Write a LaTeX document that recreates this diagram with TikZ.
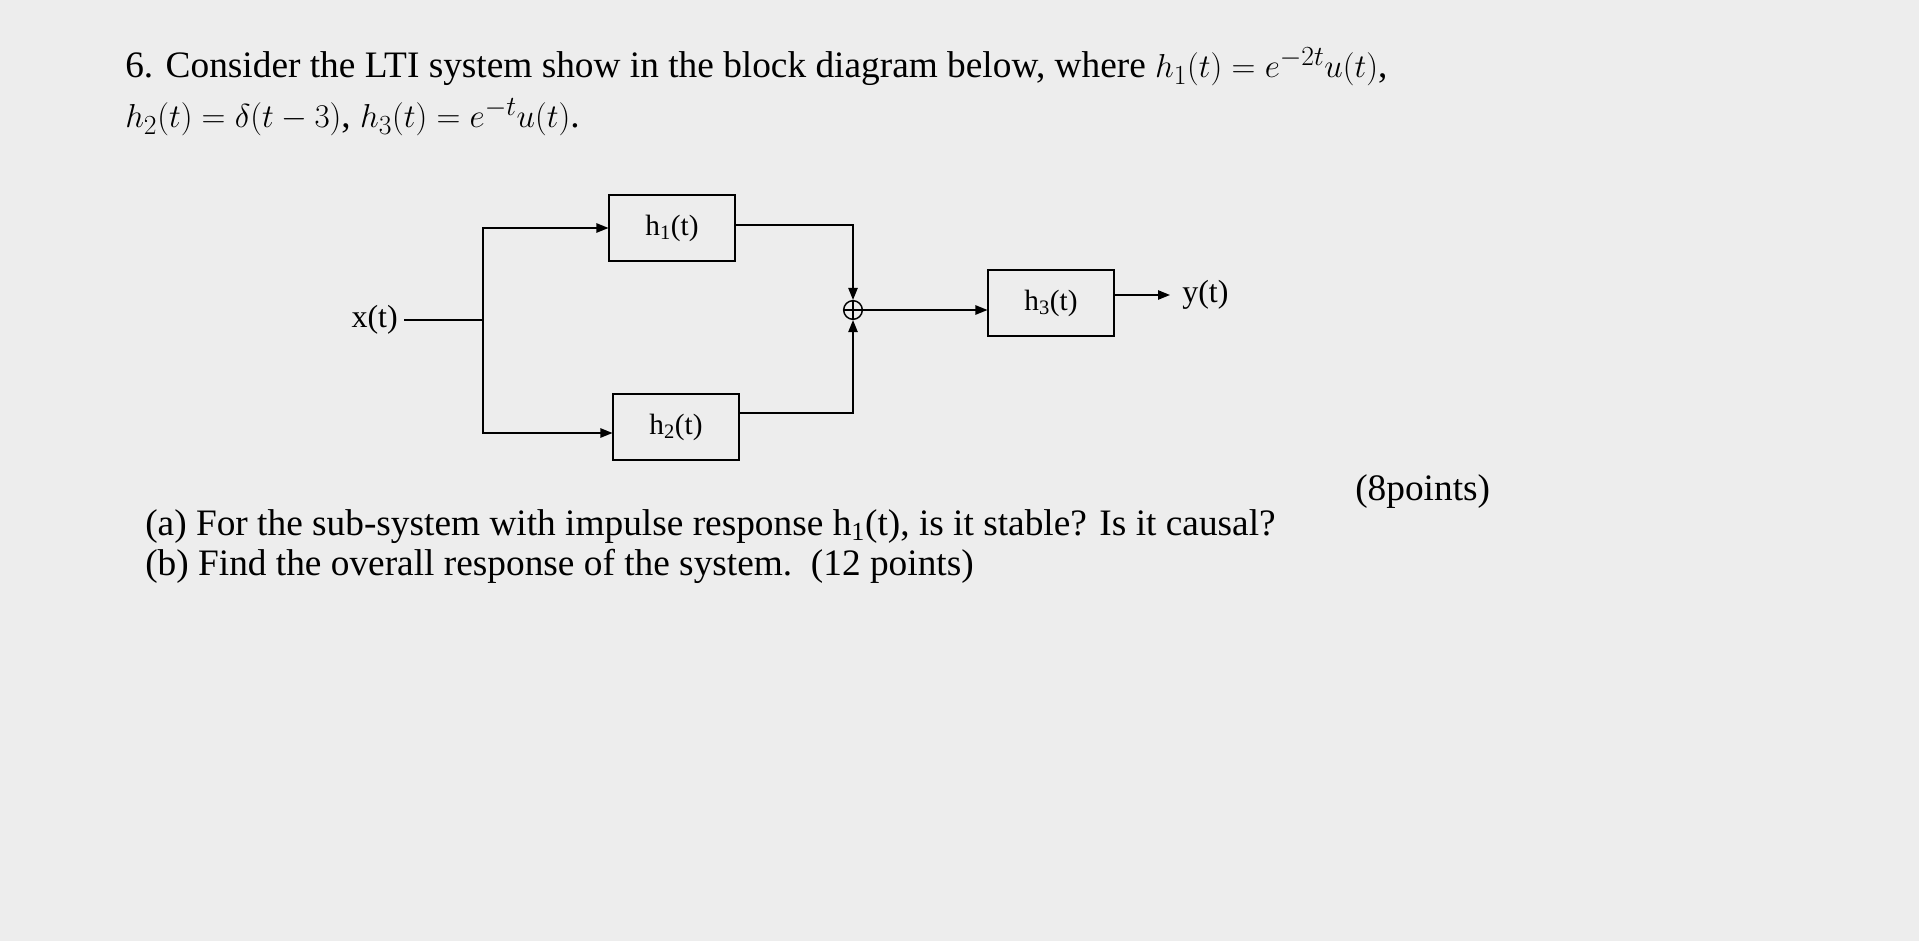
\documentclass[tikz,border=0pt]{standalone}
\usepackage{fontspec}
\setmainfont{Liberation Serif}
\usetikzlibrary{arrows.meta}
\begin{document}
\begin{tikzpicture}[x=0.75pt,y=-0.75pt,
  blk/.style={draw,line width=1.3pt,minimum width=94pt,minimum height=49pt,inner sep=0pt,font=\fontsize{22}{24}\selectfont},
  ln/.style={line width=1.1pt},
  ar/.style={ln,-{Triangle[length=9pt,width=7pt]}},
  txt/.style={anchor=base west,inner sep=0pt,font=\fontsize{28}{30}\selectfont}]
\fill[gray!14] (0,0) rectangle (1919,941);
\useasboundingbox (0,0) rectangle (1919,941);
\node[txt] (l1) at (125,78) {6. Consider the LTI system show in the block diagram below, where $h_1(t)=e^{-2t}u(t)$,};
\node[txt] (l2) at (125,128) {$h_2(t)=\delta(t-3)$, $h_3(t)=e^{-t}u(t)$.};
\node[blk] (h1) at (672,228) {h\textsubscript{1}(t)};
\node[blk] (h2) at (676,427) {h\textsubscript{2}(t)};
\node[blk] (h3) at (1051,303) {h\textsubscript{3}(t)};
\node[anchor=east,inner sep=0pt,font=\fontsize{24}{26}\selectfont] (x) at (398,320) {x(t)};
\node[anchor=west,inner sep=0pt,font=\fontsize{24}{26}\selectfont] (y) at (1182,295) {y(t)};
\node[circle,draw,line width=1.1pt,minimum size=14pt,inner sep=0pt] (s) at (853,310) {};
\draw[ln] (s.north)--(s.south) (s.west)--(s.east);
\coordinate (j) at (483,320);
\draw[ln] (x.east)++(6,0) -- (j);
\draw[ar] (j) |- (h1.west |- 0,228);
\draw[ar] (j) |- (h2.west |- 0,433);
\draw[ar] (h1.east |- 0,225) -| (s.north);
\draw[ar] (h2.east |- 0,413) -| (s.south);
\draw[ar] (s.east) -- (h3.west |- s.east);
\draw[ar] (h3.east |- 0,295) -- (1170,295);
\node[txt] (a) at (145,535) {(a) For the sub-system with impulse response h\textsubscript{1}(t), is it stable? Is it causal?};
\node[txt] (p) at (1355,500) {(8points)};
\node[txt] (b) at (145,575) {(b) Find the overall response of the system.\ \ (12 points)};
\end{tikzpicture}
\end{document}
